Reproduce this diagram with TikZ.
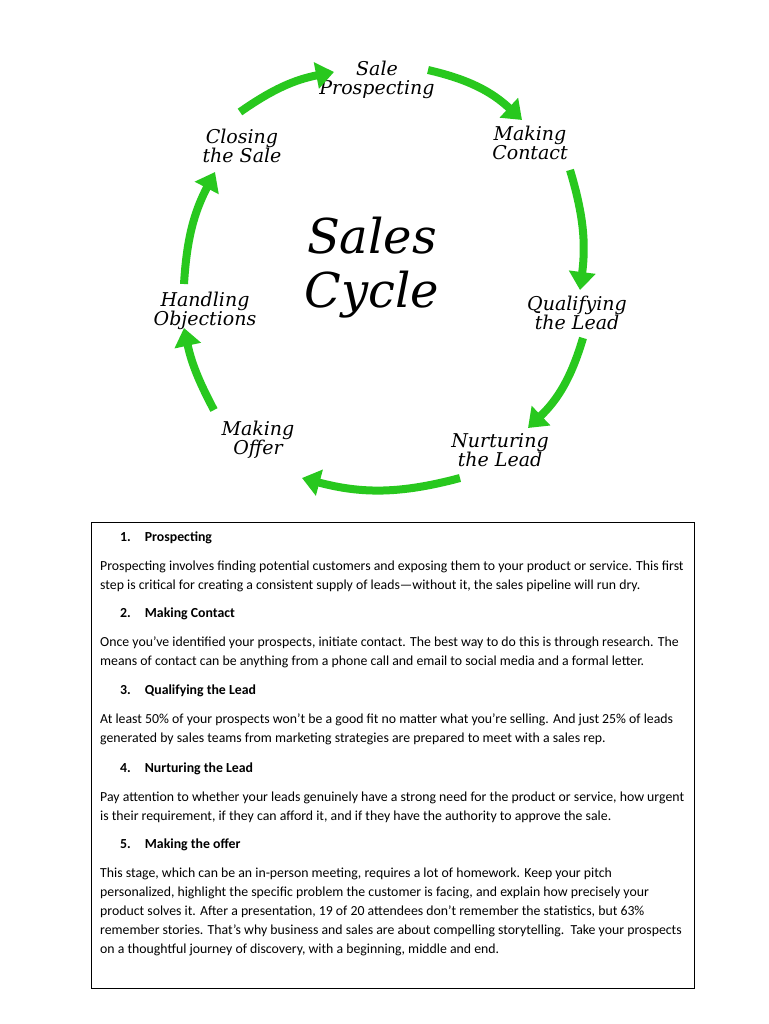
\documentclass[tikz,border=0pt]{standalone}
\usepackage{fontspec}
\setmainfont{Carlito}
\newfontfamily\handfont{DejaVu Serif}
\usetikzlibrary{arrows.meta}
\definecolor{arrgreen}{RGB}{40,200,30}
\tikzset{
 lbl/.style={font=\handfont\itshape\fontsize{19}{19}\selectfont, align=center, inner sep=0},
 cyc/.style={arrgreen, line width=8pt, -{Triangle[length=18pt,width=26pt]}},
 ln/.style={anchor=base west, inner sep=0, font=\fontsize{13.8}{14}\selectfont},
 hd/.style={anchor=base west, inner sep=0, font=\bfseries\fontsize{13.8}{14}\selectfont}
}
\begin{document}
\begin{tikzpicture}[x=1pt,y=-1pt]
\useasboundingbox (0,0) rectangle (768,1024);
\fill[white] (0,0) rectangle (768,1024);
\node[lbl] (sp) at (377,80) {Sale\\Prospecting};
\node[lbl] (mc) at (530,143) {Making\\Contact};
\node[lbl] (ql) at (577,313) {Qualifying\\the Lead};
\node[lbl] (nl) at (500,450) {Nurturing\\the Lead};
\node[lbl] (mo) at (258,440) {Making\\Offer};
\node[lbl] (ho) at (205,311) {Handling\\Objections};
\node[lbl] (cs) at (242,146) {Closing\\the Sale};
\node[font=\handfont\itshape\fontsize{48}{54}\selectfont, align=center] (sc) at (372,268) {Sales\\Cycle};
\coordinate (a1) at (428,70); \coordinate (b1) at (522,120);
\coordinate (a2) at (570,170); \coordinate (b2) at (580,290);
\coordinate (a3) at (583,338); \coordinate (b3) at (528,428);
\coordinate (a4) at (460,478); \coordinate (b4) at (302,478);
\coordinate (a5) at (214,410); \coordinate (b5) at (184,328);
\coordinate (a6) at (184,284); \coordinate (b6) at (215,172);
\coordinate (a7) at (240,112); \coordinate (b7) at (334,72);
\draw[cyc] (a1) to[bend left=15] (b1);
\draw[cyc] (a2) to[bend left=12] (b2);
\draw[cyc] (a3) to[bend left=15] (b3);
\draw[cyc] (a4) to[bend left=15] (b4);
\draw[cyc] (a5) to[bend left=8] (b5);
\draw[cyc] (a6) to[bend left=12] (b6);
\draw[cyc] (a7) to[bend left=12] (b7);
\draw[line width=0.8pt] (91,522) rectangle (694,988);
\node[hd] (h1) at (120,541) {1.\hspace{14pt}Prospecting};
\node[ln] (l1) at (100,570) {Prospecting involves finding potential customers and exposing them to your product or service. This first};
\node[ln] (l2) at (100,589) {step is critical for creating a consistent supply of leads—without it, the sales pipeline will run dry.};
\node[hd] (h2) at (120,617) {2.\hspace{14pt}Making Contact};
\node[ln] (l3) at (100,646) {Once you've identified your prospects, initiate contact. The best way to do this is through research. The};
\node[ln] (l4) at (100,665) {means of contact can be anything from a phone call and email to social media and a formal letter.};
\node[hd] (h3) at (120,694) {3.\hspace{14pt}Qualifying the Lead};
\node[ln] (l5) at (100,723) {At least 50\% of your prospects won't be a good fit no matter what you're selling. And just 25\% of leads};
\node[ln] (l6) at (100,742) {generated by sales teams from marketing strategies are prepared to meet with a sales rep.};
\node[hd] (h4) at (120,772) {4.\hspace{14pt}Nurturing the Lead};
\node[ln] (l7) at (100,801) {Pay attention to whether your leads genuinely have a strong need for the product or service, how urgent};
\node[ln] (l8) at (100,820) {is their requirement, if they can afford it, and if they have the authority to approve the sale.};
\node[hd] (h5) at (120,848) {5.\hspace{14pt}Making the offer};
\node[ln] (l9) at (100,877) {This stage, which can be an in-person meeting, requires a lot of homework. Keep your pitch};
\node[ln] (l10) at (100,896) {personalized, highlight the specific problem the customer is facing, and explain how precisely your};
\node[ln] (l11) at (100,915) {product solves it. After a presentation, 19 of 20 attendees don't remember the statistics, but 63\%};
\node[ln] (l12) at (100,934) {remember stories. That's why business and sales are about compelling storytelling.\ \ Take your prospects};
\node[ln] (l13) at (100,953) {on a thoughtful journey of discovery, with a beginning, middle and end.};
\end{tikzpicture}
\end{document}
